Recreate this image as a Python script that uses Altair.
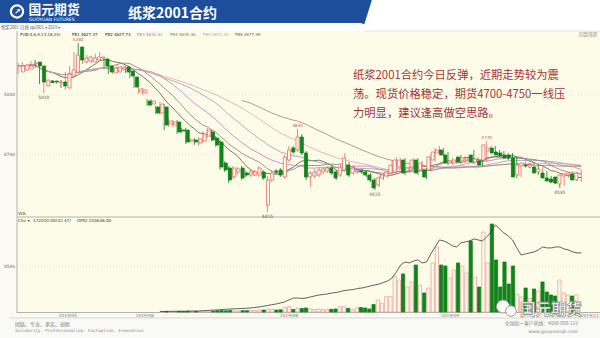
import altair as alt
import pandas as pd

# ---------------- data ----------------
open_ = [5115,5125,5130,5155,5165,5145,5045,5070,5070,5060,
         5065,5035,5095,5115,5240,5165,5170,5165,5175,5185,
         5180,5145,5110,5115,5130,5140,5120,5090,5015,5010,
         4970,4955,4940,4910,4940,4855,4850,4865,4825,4825,
         4770,4775,4760,4770,4795,4815,4785,4765,4660,4635,
         4590,4615,4635,4610,4600,4600,4600,4615,4450,4575,
         4620,4625,4590,4675,4735,4725,4790,4710,4590,4595,
         4600,4615,4620,4635,4615,4600,4625,4650,4610,4615,
         4620,4615,4600,4575,4550,4585,4595,4610,4615,4640,
         4675,4620,4640,4675,4625,4625,4625,4675,4710,4725,
         4700,4660,4660,4690,4670,4675,4700,4665,4670,4675,
         4720,4735,4715,4710,4700,4700,4685,4600,4645,4650,
         4640,4640,4615,4610,4585,4580,4590,4555,4595,4600,
         4605,4575]
close = [5145,5150,5145,5160,5145,5065,5075,5062,5065,5065,
         5045,5105,5125,5200,5175,5185,5190,5185,5190,5190,
         5145,5115,5135,5140,5140,5115,5095,5040,5030,5025,
         4950,4970,4910,4955,4850,4870,4865,4815,4820,4765,
         4775,4765,4780,4805,4825,4775,4750,4640,4625,4575,
         4635,4630,4585,4600,4615,4615,4635,4585,4575,4610,
         4615,4600,4690,4725,4715,4790,4710,4590,4610,4615,
         4625,4630,4635,4610,4585,4640,4685,4600,4635,4620,
         4615,4600,4575,4535,4585,4600,4615,4650,4675,4675,
         4610,4635,4675,4610,4660,4590,4690,4715,4725,4700,
         4660,4670,4675,4665,4685,4685,4665,4680,4650,4750,
         4735,4710,4700,4695,4685,4685,4590,4650,4660,4645,
         4650,4610,4630,4585,4570,4565,4560,4600,4605,4610,
         4575,4610]
high = [5160,5165,5155,5170,5175,5155,5085,5075,5075,5070,
        5075,5115,5145,5215,5260,5195,5200,5195,5205,5215,
        5185,5150,5145,5150,5145,5145,5130,5100,5040,5035,
        4980,4980,4945,4965,4955,4885,4875,4875,4835,4835,
        4785,4785,4790,4820,4835,4825,4795,4775,4670,4645,
        4645,4640,4645,4620,4625,4625,4645,4625,4595,4625,
        4630,4635,4700,4745,4745,4830,4805,4720,4620,4630,
        4635,4640,4645,4645,4625,4655,4710,4665,4650,4630,
        4630,4625,4610,4585,4595,4610,4625,4675,4690,4685,
        4685,4645,4685,4685,4670,4635,4700,4735,4745,4735,
        4715,4685,4685,4700,4695,4700,4725,4690,4680,4770,
        4745,4745,4725,4720,4710,4710,4695,4660,4670,4660,
        4660,4650,4640,4620,4595,4590,4600,4610,4615,4620,
        4615,4625]
low = [5105,5115,5120,5145,5135,5055,5010,5055,5060,5055,
       5035,5025,5085,5105,5165,5155,5160,5160,5165,5170,
       5140,5105,5105,5110,5120,5110,5085,5035,5005,5000,
       4945,4945,4905,4900,4825,4840,4840,4805,4810,4755,
       4760,4750,4745,4760,4785,4770,4740,4625,4615,4560,
       4580,4600,4575,4590,4590,4595,4590,4575,4415,4565,
       4605,4590,4580,4665,4705,4715,4700,4575,4540,4585,
       4590,4605,4610,4600,4575,4590,4615,4590,4600,4605,
       4605,4590,4565,4525,4540,4575,4585,4600,4605,4630,
       4600,4610,4630,4600,4615,4580,4615,4665,4700,4690,
       4650,4650,4655,4655,4660,4665,4655,4655,4645,4665,
       4710,4700,4690,4685,4675,4680,4585,4590,4635,4635,
       4630,4600,4605,4575,4560,4555,4535,4545,4585,4590,
       4570,4565]
volume = [None, None, None, None, None, None, None, None, None, None,
          None, None, None, None, None, None, None, None, None, None,
          None, None, None, None, None, None, None, None, None, None,
          None, None, None,
          3000,5000,4000,5000,6000,5000,8000,7000,6000,8000,
          9000,10000,8000,12000,15000,12000,15000,12000,10000,14000,
          13000,15000,15000,20000,20000,30000,25000,20000,22000,45000,
          55000,25000,40000,35000,40000,30000,25000,30000,25000,27000,
          27000,30000,53000,53000,37000,25000,40000,45000,40000,30000,
          75000,120000,87000,153000,153000,360000,320000,380000,250000,300000,
          470000,270000,190000,240000,490000,650000,470000,460000,340000,420000,
          490000,460000,390000,710000,350000,250000,800000,490000,880000,520000,
          250000,500000,280000,460000,180000,150000,240000,140000,230000,210000,
          300000,200000,170000,160000,320000,190000,170000,160000,172010]
oi = [None, None, None, None, None, None, None, None, None, None,
      None, None, None, None, None, None, None, None, None, None,
      None, None, None, None, None, None, None, None, None, None,
      None, None, None,
      2000,2600,2600,3000,3000,3500,3500,3900,4300,4300,
      5600,6500,7800,8700,10000,11300,12600,13400,14300,15200,
      16000,17300,19500,21600,24700,28100,31600,34600,39000,43300,
      52000,60600,60600,58500,60600,65000,69300,73600,75800,78000,
      82300,84400,88800,93100,95300,97400,101800,103900,108300,112600,
      116900,121200,127700,134200,147200,173200,203500,216500,212200,220800,
      225200,212200,216500,251100,281400,311800,307400,298800,285800,281400,
      298800,303100,307400,316100,311800,307400,324800,346400,376700,359400,
      342100,329100,311800,277100,246800,251100,255500,259800,268500,281400,
      277100,277100,281400,281400,272800,268500,259800,255500,255636]

ma_names = ["PB1", "PB2", "PB3", "PB4", "PB5", "PB6"]
ma_windows = [9, 14, 21, 30, 41, 55]
ma_last = ["4627.37", "4627.73", "4632.41", "4635.46", "4673.39", "4677.95"]
ma_line_colors = ["#4a4a4a", "#777777", "#c96ac4", "#8f9aa8", "#d6a2ad", "#9c7575"]
ma_text_colors = ["#222222", "#222222", "#d05cc8", "#3f9a3f", "#d29aa8", "#a04a40"]
ma_legend_x = [72, 105, 137, 170, 203, 235]
pb6_start = 52

price_ticks = [5000, 4700]
vol_ticks = [450000]
date_labels = ["2019/05", "2019/06", "2019/08", "2019/09", "2019/11"]
date_pos = [11.6, 29.5, 63, 100.5, 133]
low_mark_idx = [6, 58, 83, 126]
high_mark_idx = [14, 65, 109]

note_lines = ["纸浆2001合约今日反弹，近期走势较为震",
              "荡。现货价格稳定，期货4700-4750一线压",
              "力明显，建议逢高做空思路。"]
note_y = [76, 95, 114]

# ---------------- styles ----------------
BLUE = "#1c4e9b"
PANEL = "#fdfce8"
UP = "#e26a6a"
UPV = "#e7a3a3"
DOWN = "#12831b"
CJK = "Noto Sans CJK SC"
SANS = "DejaVu Sans"

N = len(close)
df = pd.DataFrame({
    "idx": list(range(N)), "o": open_, "c": close, "h": high, "l": low,
    "dir": ["up" if c >= o else "down" for o, c in zip(open_, close)],
    "vol": volume, "oi": oi,
})
one = pd.DataFrame({"k": [0]})

XS = alt.Scale(domain=[0, 131], range=[18, 581.3], nice=False, zero=False)
YP = alt.Scale(domain=[4395, 5320], range=[216, 31], nice=False, zero=False)
YV = alt.Scale(domain=[0, 950000], range=[312, 217], nice=False)
YO = alt.Scale(domain=[0, 411000], range=[312, 217], nice=False)
xq = alt.X("idx:Q", scale=XS, axis=None)


def rect(x1, x2, y1, y2, color):
    return alt.Chart(one).mark_rect(color=color).encode(
        x=alt.value(x1), x2=alt.value(x2), y=alt.value(y1), y2=alt.value(y2))


def hline(x1, x2, y, color, width=0.8, dash=None):
    kw = dict(color=color, strokeWidth=width)
    if dash:
        kw["strokeDash"] = dash
    return alt.Chart(one).mark_rule(**kw).encode(
        x=alt.value(x1), x2=alt.value(x2), y=alt.value(y))


def label(x, y, text, size, color, align="left", weight="normal", font=SANS, **kw):
    return alt.Chart(one).mark_text(
        text=text, fontSize=size, color=color, align=align, baseline="middle",
        fontWeight=weight, font=font, **kw).encode(x=alt.value(x), y=alt.value(y))


layers = []
# backgrounds
layers.append(rect(0, 600, 0, 338, "#fbfaf0"))
layers.append(rect(0, 600, 0, 31, "#ffffff"))
layers.append(rect(17, 600, 31, 312, PANEL))
layers.append(rect(0, 600, 318, 338, "#f9f9f5"))

# grid lines
layers.append(alt.Chart(pd.DataFrame({"v": price_ticks})).mark_rule(
    color="#d5d5cc", strokeWidth=0.6, strokeDash=[1, 2]).encode(
    y=alt.Y("v:Q", scale=YP, axis=None), x=alt.value(17), x2=alt.value(600)))
layers.append(alt.Chart(pd.DataFrame({"v": vol_ticks})).mark_rule(
    color="#d5d5cc", strokeWidth=0.6, strokeDash=[1, 2]).encode(
    y=alt.Y("v:Q", scale=YV, axis=None), x=alt.value(17), x2=alt.value(600)))

# panel frame
layers.append(alt.Chart(one).mark_rule(color="#a0a0a0", strokeWidth=0.8).encode(
    x=alt.value(17), y=alt.value(31), y2=alt.value(313)))
layers.append(hline(17, 600, 217, "#a0a0a0"))
layers.append(hline(17, 600, 312.5, "#a0a0a0"))

# moving averages
ma = alt.Chart(df)
for name, w in zip(ma_names, ma_windows):
    ma = ma.transform_window(frame=[-(w - 1), 0], sort=[alt.SortField("idx")],
                             **{name: "mean(c)"})
ma = ma.transform_fold(ma_names, as_=["ma", "val"]).transform_filter(
    f"datum.ma != 'PB6' || datum.idx >= {pb6_start}")
layers.append(ma.mark_line(strokeWidth=0.75).encode(
    x=xq, y=alt.Y("val:Q", scale=YP, axis=None),
    color=alt.Color("ma:N", scale=alt.Scale(domain=ma_names, range=ma_line_colors), legend=None)))

dir_scale = alt.Scale(domain=["up", "down"], range=[UP, DOWN])
# candles
layers.append(alt.Chart(df).mark_rule(strokeWidth=0.8).encode(
    x=xq, y=alt.Y("l:Q", scale=YP, axis=None), y2="h:Q",
    color=alt.Color("dir:N", scale=dir_scale, legend=None)))
layers.append(alt.Chart(df).mark_bar(size=3.1, strokeWidth=0.8).encode(
    x=xq, y=alt.Y("o:Q", scale=YP, axis=None), y2="c:Q",
    fill=alt.Fill("dir:N", scale=alt.Scale(domain=["up", "down"], range=[PANEL, DOWN]), legend=None),
    stroke=alt.Stroke("dir:N", scale=dir_scale, legend=None)))

# volume + open interest
layers.append(alt.Chart(df).transform_filter("isValid(datum.vol)").mark_bar(size=3.2, strokeWidth=0.8).encode(
    x=xq, y=alt.Y("vol:Q", scale=YV, axis=None),
    fill=alt.Fill("dir:N", scale=alt.Scale(domain=["up", "down"], range=[PANEL, DOWN]), legend=None),
    stroke=alt.Stroke("dir:N", scale=alt.Scale(domain=["up", "down"], range=[UPV, DOWN]), legend=None)))
layers.append(alt.Chart(df).transform_filter("isValid(datum.oi)").mark_line(
    color="#3a3a3a", strokeWidth=0.8).encode(x=xq, y=alt.Y("oi:Q", scale=YO, axis=None)))

# extreme labels
lows_df = pd.DataFrame({"idx": low_mark_idx, "v": [low[i] for i in low_mark_idx]})
highs_df = pd.DataFrame({"idx": high_mark_idx, "v": [high[i] for i in high_mark_idx]})
layers.append(alt.Chart(lows_df).mark_text(fontSize=4.4, font=SANS, color="#555555", dy=4.5, baseline="middle").encode(
    x=xq, y=alt.Y("v:Q", scale=YP, axis=None), text="v:Q"))
layers.append(alt.Chart(highs_df).mark_text(fontSize=4.2, font=SANS, color="#c0504d", dy=-3.3, baseline="middle").encode(
    x=xq, y=alt.Y("v:Q", scale=YP, axis=None), text="v:Q"))

# axis labels
layers.append(alt.Chart(pd.DataFrame({"v": price_ticks})).mark_text(
    fontSize=4.4, font=SANS, color="#666666", align="right", baseline="middle").encode(
    x=alt.value(15), y=alt.Y("v:Q", scale=YP, axis=None), text=alt.Text("v:Q", format="d")))
layers.append(alt.Chart(pd.DataFrame({"v": vol_ticks})).mark_text(
    fontSize=4.4, font=SANS, color="#666666", align="right", baseline="middle").encode(
    x=alt.value(15), y=alt.Y("v:Q", scale=YV, axis=None), text=alt.Text("v:Q", format="~s")))
layers.append(alt.Chart(pd.DataFrame({"p": date_pos, "t": date_labels})).mark_text(
    fontSize=4.4, font=SANS, color="#777777", baseline="middle").encode(
    x=alt.X("p:Q", scale=XS, axis=None), y=alt.value(315.5), text="t:N"))

# legends inside panels
layers.append(label(20, 35, "PUB(4,6,9,13,18,24)", 4.0, "#333333"))
for lx, nm, val, col in zip(ma_legend_x, ma_names, ma_last, ma_text_colors):
    layers.append(label(lx, 35, f"{nm} {val}", 4.0, col))
layers.append(label(18, 214, "VOL", 4.2, "#333333"))
layers.append(label(18, 221, "Chv ▾", 4.2, "#333333"))
layers.append(label(33, 221, f"{volume[-1]:.2f}(32.47)", 4.2, "#333333"))
layers.append(label(77, 221, f"OPID {oi[-1]:.2f}", 4.2, "#333333"))
layers.append(label(597, 35, "回到顶部", 4.5, "#888888", align="right", font=CJK))
layers.append(label(1, 28, "纸浆2001 日线   sp2001 ▾   2019 ▾", 4.3, "#555555", font=CJK))
layers.append(hline(364, 600, 31, "#d0d0d0", 0.6))

# annotation
for ny, line in zip(note_y, note_lines):
    layers.append(label(353, ny, line, 11.3, "#a4343a", font=CJK))

# header
layers.append(rect(0, 364, 0, 23, BLUE))
layers.append(alt.Chart(one).mark_rule(color=BLUE, strokeWidth=8).encode(
    x=alt.value(368), y=alt.value(-1), x2=alt.value(360.5), y2=alt.value(23)))
layers.append(alt.Chart(one).mark_point(shape="circle", filled=False, color="white",
                                        strokeWidth=2.2, size=150, opacity=1).encode(
    x=alt.value(17), y=alt.value(11.5)))
layers.append(label(17.3, 11.5, "↗", 8, "white", align="center", weight="bold"))
layers.append(label(28.5, 10, "国元期货", 12.8, "white", weight="bold", font=CJK))
layers.append(label(29, 20.2, "GUOYUAN FUTURES", 4.6, "white", font=SANS))
layers.append(label(128, 13.5, "纸浆2001合约", 14, "white", weight="bold", font=CJK))

# footer
layers.append(hline(10, 600, 318, "#c8c8c8", 0.7))
layers.append(label(15, 324, "团结、专业、求实、创新", 5, "#777777", font=CJK))
layers.append(label(15, 331, "Solidarity. Professionalism. Factualism. Innovation", 4.2, "#888888",
                    font="DejaVu Sans Mono"))
layers.append(alt.Chart(one).mark_point(shape="circle", filled=True, fill="white", stroke="#9a9a9a",
                                        strokeWidth=1, size=170, opacity=1).encode(
    x=alt.value(503), y=alt.value(306.5)))
layers.append(alt.Chart(one).mark_point(shape="circle", filled=True, fill="white", stroke="#9a9a9a",
                                        strokeWidth=1, size=110, opacity=1).encode(
    x=alt.value(511), y=alt.value(311)))
layers.append(label(551, 309.5, "国元期货", 15.5, "white", align="center", weight="bold", font=CJK,
                    stroke="#8a8a8a", strokeWidth=0.7))
layers.append(label(578, 324, "全国统一客户热线：4008-888-123", 4.8, "#888888", align="right", font=CJK))
layers.append(label(578, 331.5, "www.guoyuanqh.com", 4.6, "#888888", align="right"))

chart = alt.layer(*layers).resolve_scale(
    x="independent", y="independent", color="independent", fill="independent", stroke="independent"
).properties(
    width=600, height=338, padding=0, autosize=alt.AutoSizeParams(type="none"),
    background="#fbfaf0"
).configure_view(stroke=None)

chart.save("out.html", embed_options={"renderer": "svg", "actions": False})
